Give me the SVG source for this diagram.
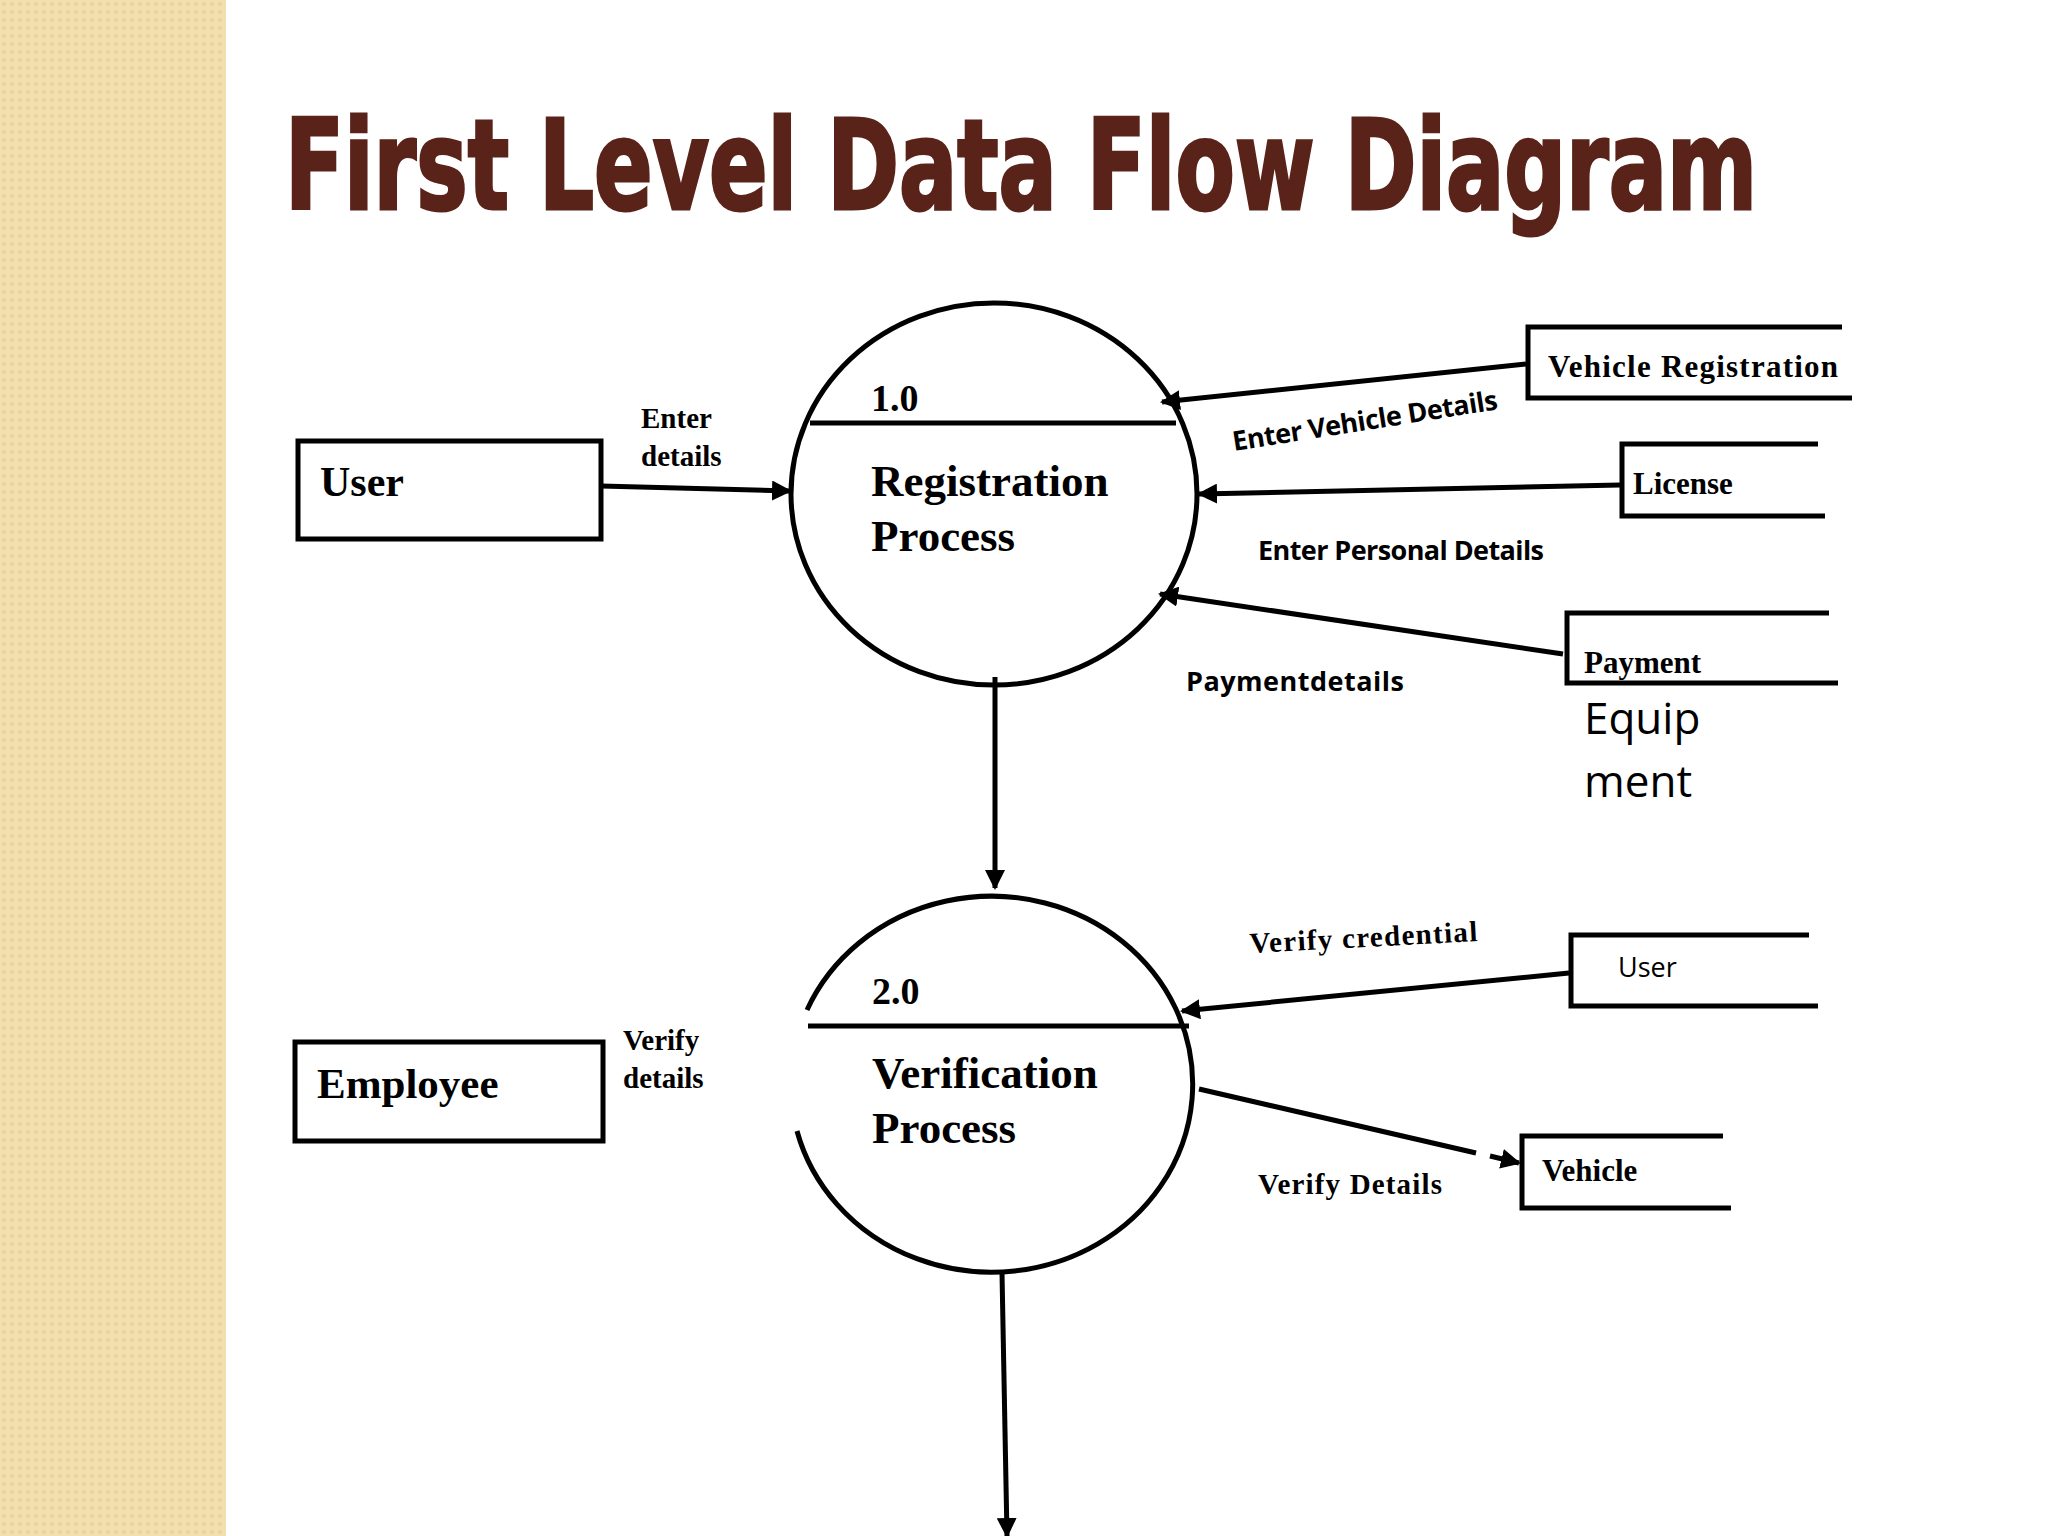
<svg xmlns="http://www.w3.org/2000/svg" width="2048" height="1536" viewBox="0 0 2048 1536">
<defs>
<pattern id="dots" width="8" height="8" patternUnits="userSpaceOnUse"><rect width="8" height="8" fill="#f1dfb0"/><circle cx="4" cy="4" r="2" fill="#e8d29e"/></pattern>
<marker id="ah" viewBox="0 0 10 10" refX="9" refY="5" markerWidth="4" markerHeight="4" orient="auto"><path d="M0,0 L10,5 L0,10 z" fill="#000"/></marker>
<style>
.s{fill:none;stroke:#000;stroke-width:5}
.c{fill:none;stroke:#000;stroke-width:5;marker-end:url(#ah)}
.t{font-family:"Liberation Serif",serif;font-weight:bold;fill:#000}
.a{font-family:"Open Sans","DejaVu Sans",sans-serif;font-weight:bold;fill:#000;font-size:27px}
</style>
</defs>
<rect width="2048" height="1536" fill="#fff"/>
<rect width="226" height="1536" fill="url(#dots)"/>
<text x="285" y="209" font-family="'DejaVu Sans Condensed','DejaVu Sans',sans-serif" font-weight="bold" font-size="124" fill="#5a2319" stroke="#5a2319" stroke-width="3" textLength="1472" lengthAdjust="spacingAndGlyphs">First Level Data Flow Diagram</text>
<g id="p1">
<ellipse cx="994" cy="494" rx="203" ry="191" class="s"/>
<line x1="810" y1="423" x2="1176" y2="423" class="s"/>
<text x="871" y="411" class="t" font-size="38">1.0</text>
<text x="871" y="496" class="t" font-size="45">Registration</text>
<text x="871" y="551" class="t" font-size="45">Process</text>
</g>
<g id="p2">
<path d="M807,1010 A201,188 0 1 1 797,1131" class="s"/>
<line x1="808" y1="1026" x2="1189" y2="1026" class="s"/>
<text x="872" y="1004" class="t" font-size="38">2.0</text>
<text x="872" y="1088" class="t" font-size="45">Verification</text>
<text x="872" y="1143" class="t" font-size="45">Process</text>
</g>
<g id="user"><rect x="298" y="441" width="303" height="98" class="s"/><text x="320" y="496" class="t" font-size="42" font-weight="normal">User</text></g>
<g id="employee"><rect x="295" y="1042" width="308" height="99" class="s"/><text x="317" y="1098" class="t" font-size="43">Employee</text></g>
<g id="vehreg"><path d="M1842,327 H1528 V398 H1852" class="s"/><text x="1548" y="377" class="t" font-size="31" font-weight="normal" textLength="290">Vehicle Registration</text></g>
<g id="license"><path d="M1818,444 H1622 V516 H1825" class="s"/><text x="1633" y="494" class="t" font-size="31">License</text></g>
<g id="payment"><path d="M1829,613 H1567 V683 H1838" class="s"/><text x="1584" y="673" class="t" font-size="31">Payment</text>
<text x="1584" y="734" font-family="'Open Sans',sans-serif" font-size="44">Equip</text><text x="1584" y="797" font-family="'Open Sans',sans-serif" font-size="44">ment</text></g>
<g id="user2"><path d="M1809,935 H1571 V1006 H1818" class="s"/><text x="1618" y="977" font-family="'Open Sans',sans-serif" font-size="27">User</text></g>
<g id="vehicle"><path d="M1723,1136 H1522 V1208 H1731" class="s"/><text x="1542" y="1181" class="t" font-size="31">Vehicle</text></g>
<g id="connectors">
<line x1="601" y1="486" x2="790" y2="491" class="c"/>
<line x1="1526" y1="364" x2="1162" y2="402" class="c"/>
<line x1="1620" y1="485" x2="1199" y2="494" class="c"/>
<line x1="1563" y1="654" x2="1160" y2="594" class="c"/>
<line x1="995" y1="677" x2="995" y2="888" class="c"/>
<line x1="1569" y1="973" x2="1182" y2="1011" class="c"/>
<path d="M1199,1089 L1476,1153" class="s"/>
<line x1="1490" y1="1156" x2="1519" y2="1163" class="c"/>
<line x1="1002" y1="1273" x2="1007" y2="1536" class="c"/>
</g>
<g id="labels">
<text x="641" y="428" class="t" font-size="29" font-weight="normal">Enter</text>
<text x="641" y="466" class="t" font-size="29" font-weight="normal">details</text>
<text x="1234" y="451" class="a" transform="rotate(-9 1234 451)" textLength="268">Enter Vehicle Details</text>
<text x="1258" y="560" class="a" textLength="286">Enter Personal Details</text>
<text x="1186" y="691" class="a" textLength="218">Paymentdetails</text>
<text x="1250" y="953" class="t" font-size="29" transform="rotate(-3 1250 953)" textLength="228">Verify credential</text>
<text x="623" y="1050" class="t" font-size="29">Verify</text>
<text x="623" y="1088" class="t" font-size="29">details</text>
<text x="1258" y="1194" class="t" font-size="29" textLength="184">Verify Details</text>
</g>
</svg>
